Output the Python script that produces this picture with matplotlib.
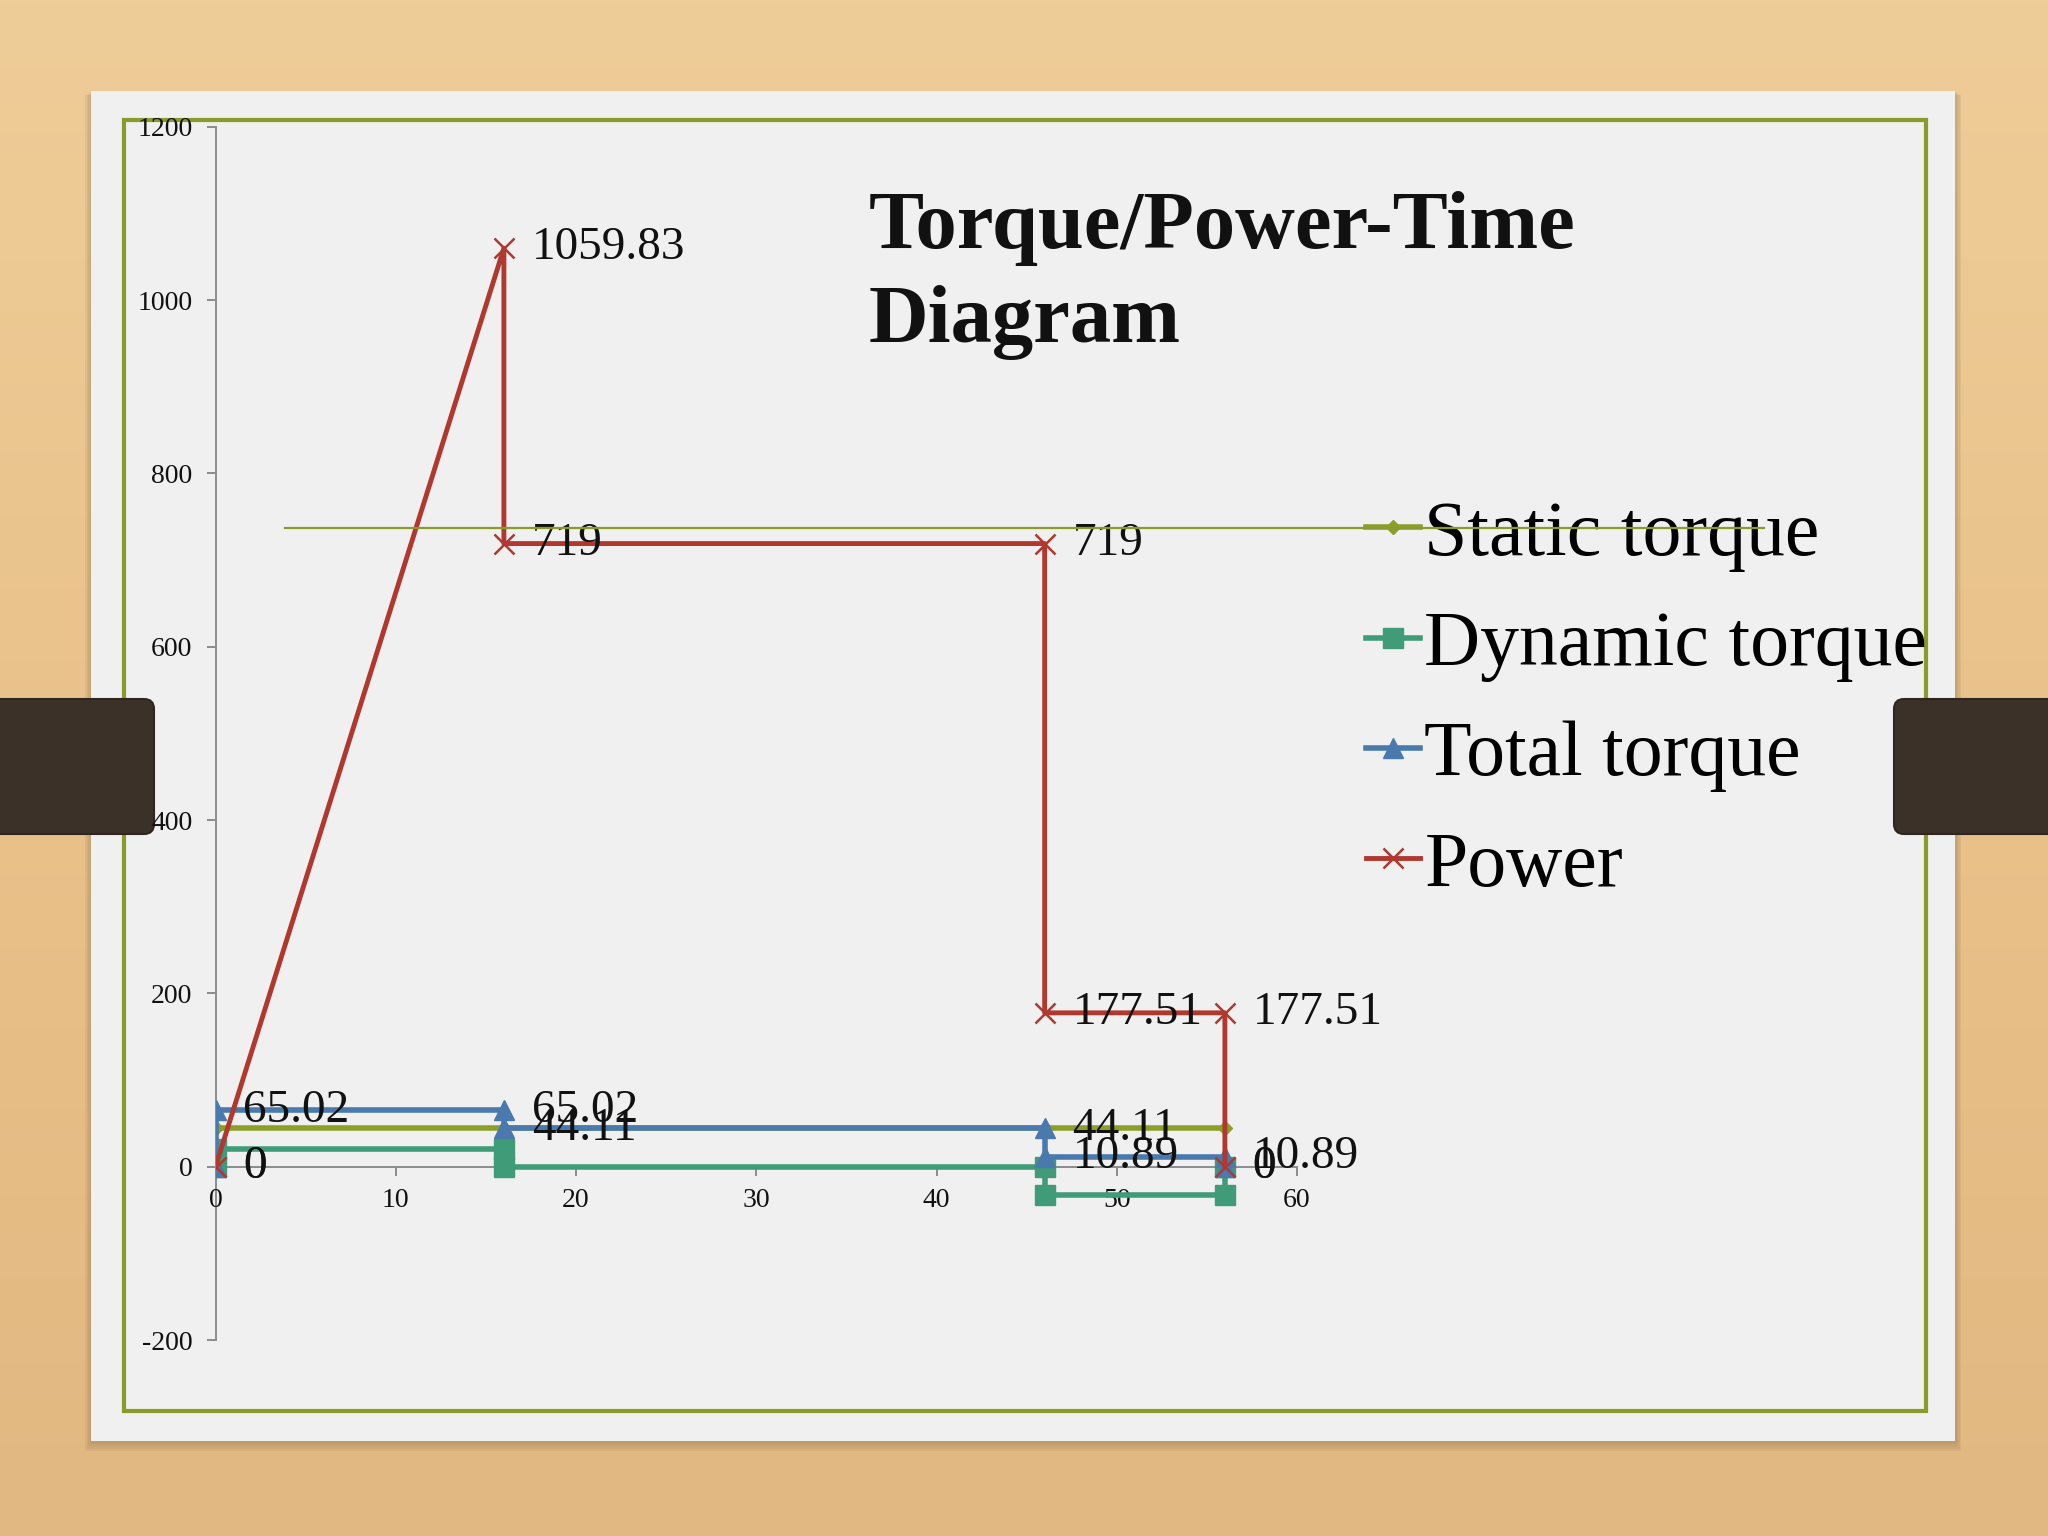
import numpy as np
import matplotlib
matplotlib.use("Agg")
import matplotlib.pyplot as plt
from matplotlib.patches import Rectangle, FancyBboxPatch
from matplotlib.lines import Line2D

plt.rcParams['font.family'] = ['Liberation Serif', 'DejaVu Serif']
plt.rcParams['axes.unicode_minus'] = False

# data
static_t = [0, 16, 46, 56]
static_v = [44.11, 44.11, 44.11, 44.11]

dyn_t = [0, 0, 16, 16, 46, 46, 56, 56]
dyn_v = [0, 20.91, 20.91, 0, 0, -33.22, -33.22, 0]

total_t = [0, 0, 16, 16, 46, 46, 56, 56]
total_v = [0, 65.02, 65.02, 44.11, 44.11, 10.89, 10.89, 0]

power_t = [0, 16, 16, 46, 46, 56, 56]
power_v = [0, 1059.83, 719, 719, 177.51, 177.51, 0]

x_ticks = [0, 10, 20, 30, 40, 50, 60]
y_ticks = [-200, 0, 200, 400, 600, 800, 1000, 1200]

W, H = 2048, 1536
fig = plt.figure(figsize=(W / 100, H / 100), dpi=100)

# slide background: wood, card, border, clips
bg = fig.add_axes([0, 0, 1, 1])
bg.set_xlim(0, W)
bg.set_ylim(H, 0)
bg.axis('off')
grad = np.linspace(0, 1, 256).reshape(-1, 1)
wood = matplotlib.colors.LinearSegmentedColormap.from_list(
    'wood', ['#efcd98', '#ebc58e', '#e7be86', '#e2b882'])
bg.imshow(grad, cmap=wood, extent=[0, W, H, 0], aspect='auto', zorder=0)

for i, a in enumerate([0.05, 0.05, 0.06, 0.07]):
    off = 3 + i * 3
    bg.add_patch(Rectangle((91 - off / 2, 91 + off / 3), 1864 + off, 1350 + off / 2,
                           facecolor='#4a3a28', alpha=a, lw=0, zorder=1))
bg.add_patch(Rectangle((91, 91), 1864, 1350, facecolor='#f0f0f0', lw=0, zorder=2))
bg.add_patch(Rectangle((124, 120), 1802, 1291, facecolor='none',
                       edgecolor='#8a9b2c', lw=3, zorder=3))

for x0 in (-20, 1894):
    bg.add_patch(FancyBboxPatch((x0, 699), 174, 135,
                                boxstyle='round,pad=0,rounding_size=10',
                                facecolor='#3b3128', edgecolor='#2e261f', lw=1.5, zorder=4))

# chart
ax = fig.add_axes([215.5 / W, 1 - 1340 / H, (1297 - 215.5) / W, (1340 - 126.7) / H])
ax.patch.set_alpha(0)

ax.plot(static_t, static_v, color='#8c9f2b', lw=4, marker='D', ms=7,
        label='Static torque')
ax.plot(dyn_t, dyn_v, color='#3f9b78', lw=4, marker='s', ms=15,
        label='Dynamic torque')
ax.plot(total_t, total_v, color='#4a79ad', lw=4, marker='^', ms=15,
        label='Total torque')
ax.plot(power_t, power_v, color='#b0382f', lw=3.5, marker='x', ms=15, mew=1.8,
        label='Power')

for t, v in zip(total_t, total_v):
    ax.annotate(f"{v:g}", (t, v), xytext=(20, 0), textcoords='offset points',
                va='center', ha='left', fontsize=34, color='#111111')
for t, v in zip(power_t, power_v):
    ax.annotate(f"{v:g}", (t, v), xytext=(20, 0), textcoords='offset points',
                va='center', ha='left', fontsize=34, color='#111111')

ax.set_xlim(0, 60)
ax.set_ylim(-200, 1200)
ax.set_xticks(x_ticks)
ax.set_yticks(y_ticks)
ax.spines['top'].set_visible(False)
ax.spines['right'].set_visible(False)
ax.spines['bottom'].set_position(('data', 0))
for s in ('left', 'bottom'):
    ax.spines[s].set_color('#8c8c8c')
    ax.spines[s].set_linewidth(1.4)
    ax.spines[s].set_zorder(0)
ax.tick_params(axis='both', direction='out', length=6.5, width=1.4,
               color='#8c8c8c', labelsize=20, labelcolor='#111111')
ax.tick_params(axis='x', pad=9)
ax.tick_params(axis='y', pad=10)

leg = ax.legend(loc='upper left', bbox_to_anchor=(1366 / W, 1 - 500 / H),
                bbox_transform=fig.transFigure, frameon=False, fontsize=56,
                handlelength=0.7, handletextpad=0.05, labelspacing=0.5,
                borderpad=0, borderaxespad=0, markerscale=1.0)

fig.text(869 / W, 1 - 248 / H, "Torque/Power-Time", fontsize=59.5,
         weight='bold', va='baseline', ha='left', color='#111111')
fig.text(869 / W, 1 - 342 / H, "Diagram", fontsize=59.5,
         weight='bold', va='baseline', ha='left', color='#111111')

# stray thin olive line on the slide
fig.add_artist(Line2D([285 / W, 1764 / W], [1 - 528 / H, 1 - 528 / H],
                      color='#8a9b2c', lw=1.6, zorder=10))

fig.savefig('out.png', dpi=100)
